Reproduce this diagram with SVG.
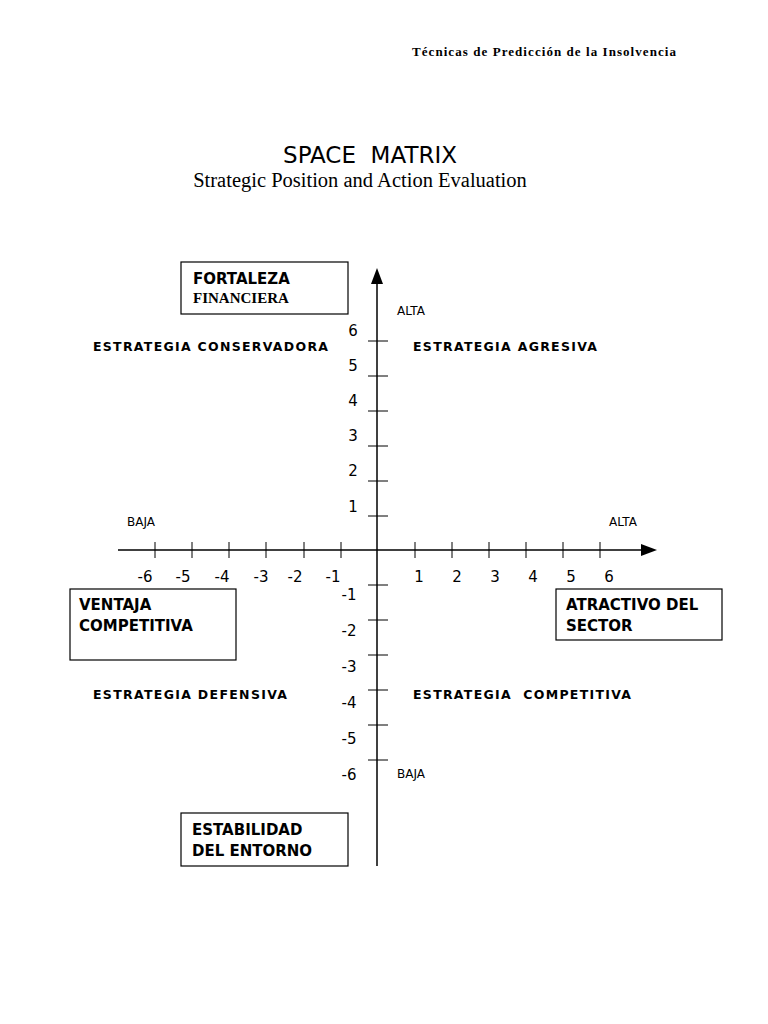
<svg xmlns="http://www.w3.org/2000/svg" width="768" height="1024" viewBox="0 0 768 1024">
<style>
.s{font-family:"DejaVu Sans",Verdana,sans-serif;fill:#000}
.b{font-family:"DejaVu Sans",Verdana,sans-serif;font-weight:bold;fill:#000}
.r{font-family:"Liberation Serif","Times New Roman",serif;fill:#000}
.box{fill:#fff;stroke:#000;stroke-width:1.2}
.ax{stroke:#000;stroke-width:1.5;fill:none}
.t{stroke:#000;stroke-width:1}
</style>
<rect width="768" height="1024" fill="#fff"/>
<text class="r" x="676" y="56" font-size="13" font-weight="bold" text-anchor="end" textLength="264" lengthAdjust="spacing">Técnicas de Predicción de la Insolvencia</text>
<text class="s" x="370" y="163" font-size="23" text-anchor="middle" xml:space="preserve">SPACE  MATRIX</text>
<text class="r" x="360" y="187" font-size="20.5" text-anchor="middle">Strategic Position and Action Evaluation</text>
<g id="connectors">
<line class="ax" x1="377" y1="866" x2="377" y2="280"/>
<polygon points="377,268 371,284 383,284" fill="#000"/>
<line class="ax" x1="118" y1="550" x2="645" y2="550"/>
<polygon points="657,550 641,544 641,556" fill="#000"/>
<g class="t">
<line x1="155" y1="542" x2="155" y2="558"/><line x1="192" y1="542" x2="192" y2="558"/><line x1="229" y1="542" x2="229" y2="558"/><line x1="266" y1="542" x2="266" y2="558"/><line x1="304" y1="542" x2="304" y2="558"/><line x1="341" y1="542" x2="341" y2="558"/>
<line x1="415" y1="542" x2="415" y2="558"/><line x1="452" y1="542" x2="452" y2="558"/><line x1="489" y1="542" x2="489" y2="558"/><line x1="526" y1="542" x2="526" y2="558"/><line x1="563" y1="542" x2="563" y2="558"/><line x1="600" y1="542" x2="600" y2="558"/>
<line x1="368" y1="341" x2="388" y2="341"/><line x1="368" y1="376" x2="388" y2="376"/><line x1="368" y1="411" x2="388" y2="411"/><line x1="368" y1="446" x2="388" y2="446"/><line x1="368" y1="481" x2="388" y2="481"/><line x1="368" y1="516" x2="388" y2="516"/>
<line x1="368" y1="585" x2="388" y2="585"/><line x1="368" y1="620" x2="388" y2="620"/><line x1="368" y1="655" x2="388" y2="655"/><line x1="368" y1="690" x2="388" y2="690"/><line x1="368" y1="725" x2="388" y2="725"/><line x1="368" y1="760" x2="388" y2="760"/>
</g>
</g>
<g class="s" font-size="15" text-anchor="middle">
<text x="145" y="582">-6</text><text x="183" y="582">-5</text><text x="222" y="582">-4</text><text x="261" y="582">-3</text><text x="295" y="582">-2</text><text x="333" y="582">-1</text>
<text x="419" y="582">1</text><text x="457" y="582">2</text><text x="495" y="582">3</text><text x="533" y="582">4</text><text x="571" y="582">5</text><text x="609" y="582">6</text>
<text x="353" y="336">6</text><text x="353" y="371">5</text><text x="353" y="406">4</text><text x="353" y="441">3</text><text x="353" y="476">2</text><text x="353" y="512">1</text>
<text x="349" y="600">-1</text><text x="349" y="636">-2</text><text x="349" y="672">-3</text><text x="349" y="708">-4</text><text x="349" y="744">-5</text><text x="349" y="780">-6</text>
</g>
<g class="s" font-size="12">
<text x="397" y="315">ALTA</text><text x="397" y="778">BAJA</text><text x="127" y="526">BAJA</text><text x="609" y="526">ALTA</text>
</g>
<g class="b" font-size="12.5">
<text x="93" y="351" textLength="235" lengthAdjust="spacing">ESTRATEGIA CONSERVADORA</text><text x="413" y="351" textLength="184" lengthAdjust="spacing">ESTRATEGIA AGRESIVA</text>
<text x="93" y="699" textLength="194" lengthAdjust="spacing">ESTRATEGIA DEFENSIVA</text><text x="413" y="699" xml:space="preserve" textLength="218" lengthAdjust="spacing">ESTRATEGIA  COMPETITIVA</text>
</g>
<g id="fortaleza"><rect class="box" x="181" y="262" width="167" height="52"/><text class="b" x="193" y="284" font-size="15">FORTALEZA</text><text class="r" x="193" y="303" font-size="15" font-weight="bold">FINANCIERA</text></g>
<g id="ventaja"><rect class="box" x="70" y="589" width="166" height="71"/><text class="b" x="79" y="610" font-size="15">VENTAJA</text><text class="b" x="79" y="631" font-size="15">COMPETITIVA</text></g>
<g id="atractivo"><rect class="box" x="556" y="589" width="166" height="51"/><text class="b" x="566" y="610" font-size="15">ATRACTIVO DEL</text><text class="b" x="566" y="631" font-size="15">SECTOR</text></g>
<g id="estabilidad"><rect class="box" x="181" y="813" width="167" height="53"/><text class="b" x="192" y="835" font-size="15">ESTABILIDAD</text><text class="b" x="192" y="856" font-size="15">DEL ENTORNO</text></g>
</svg>
